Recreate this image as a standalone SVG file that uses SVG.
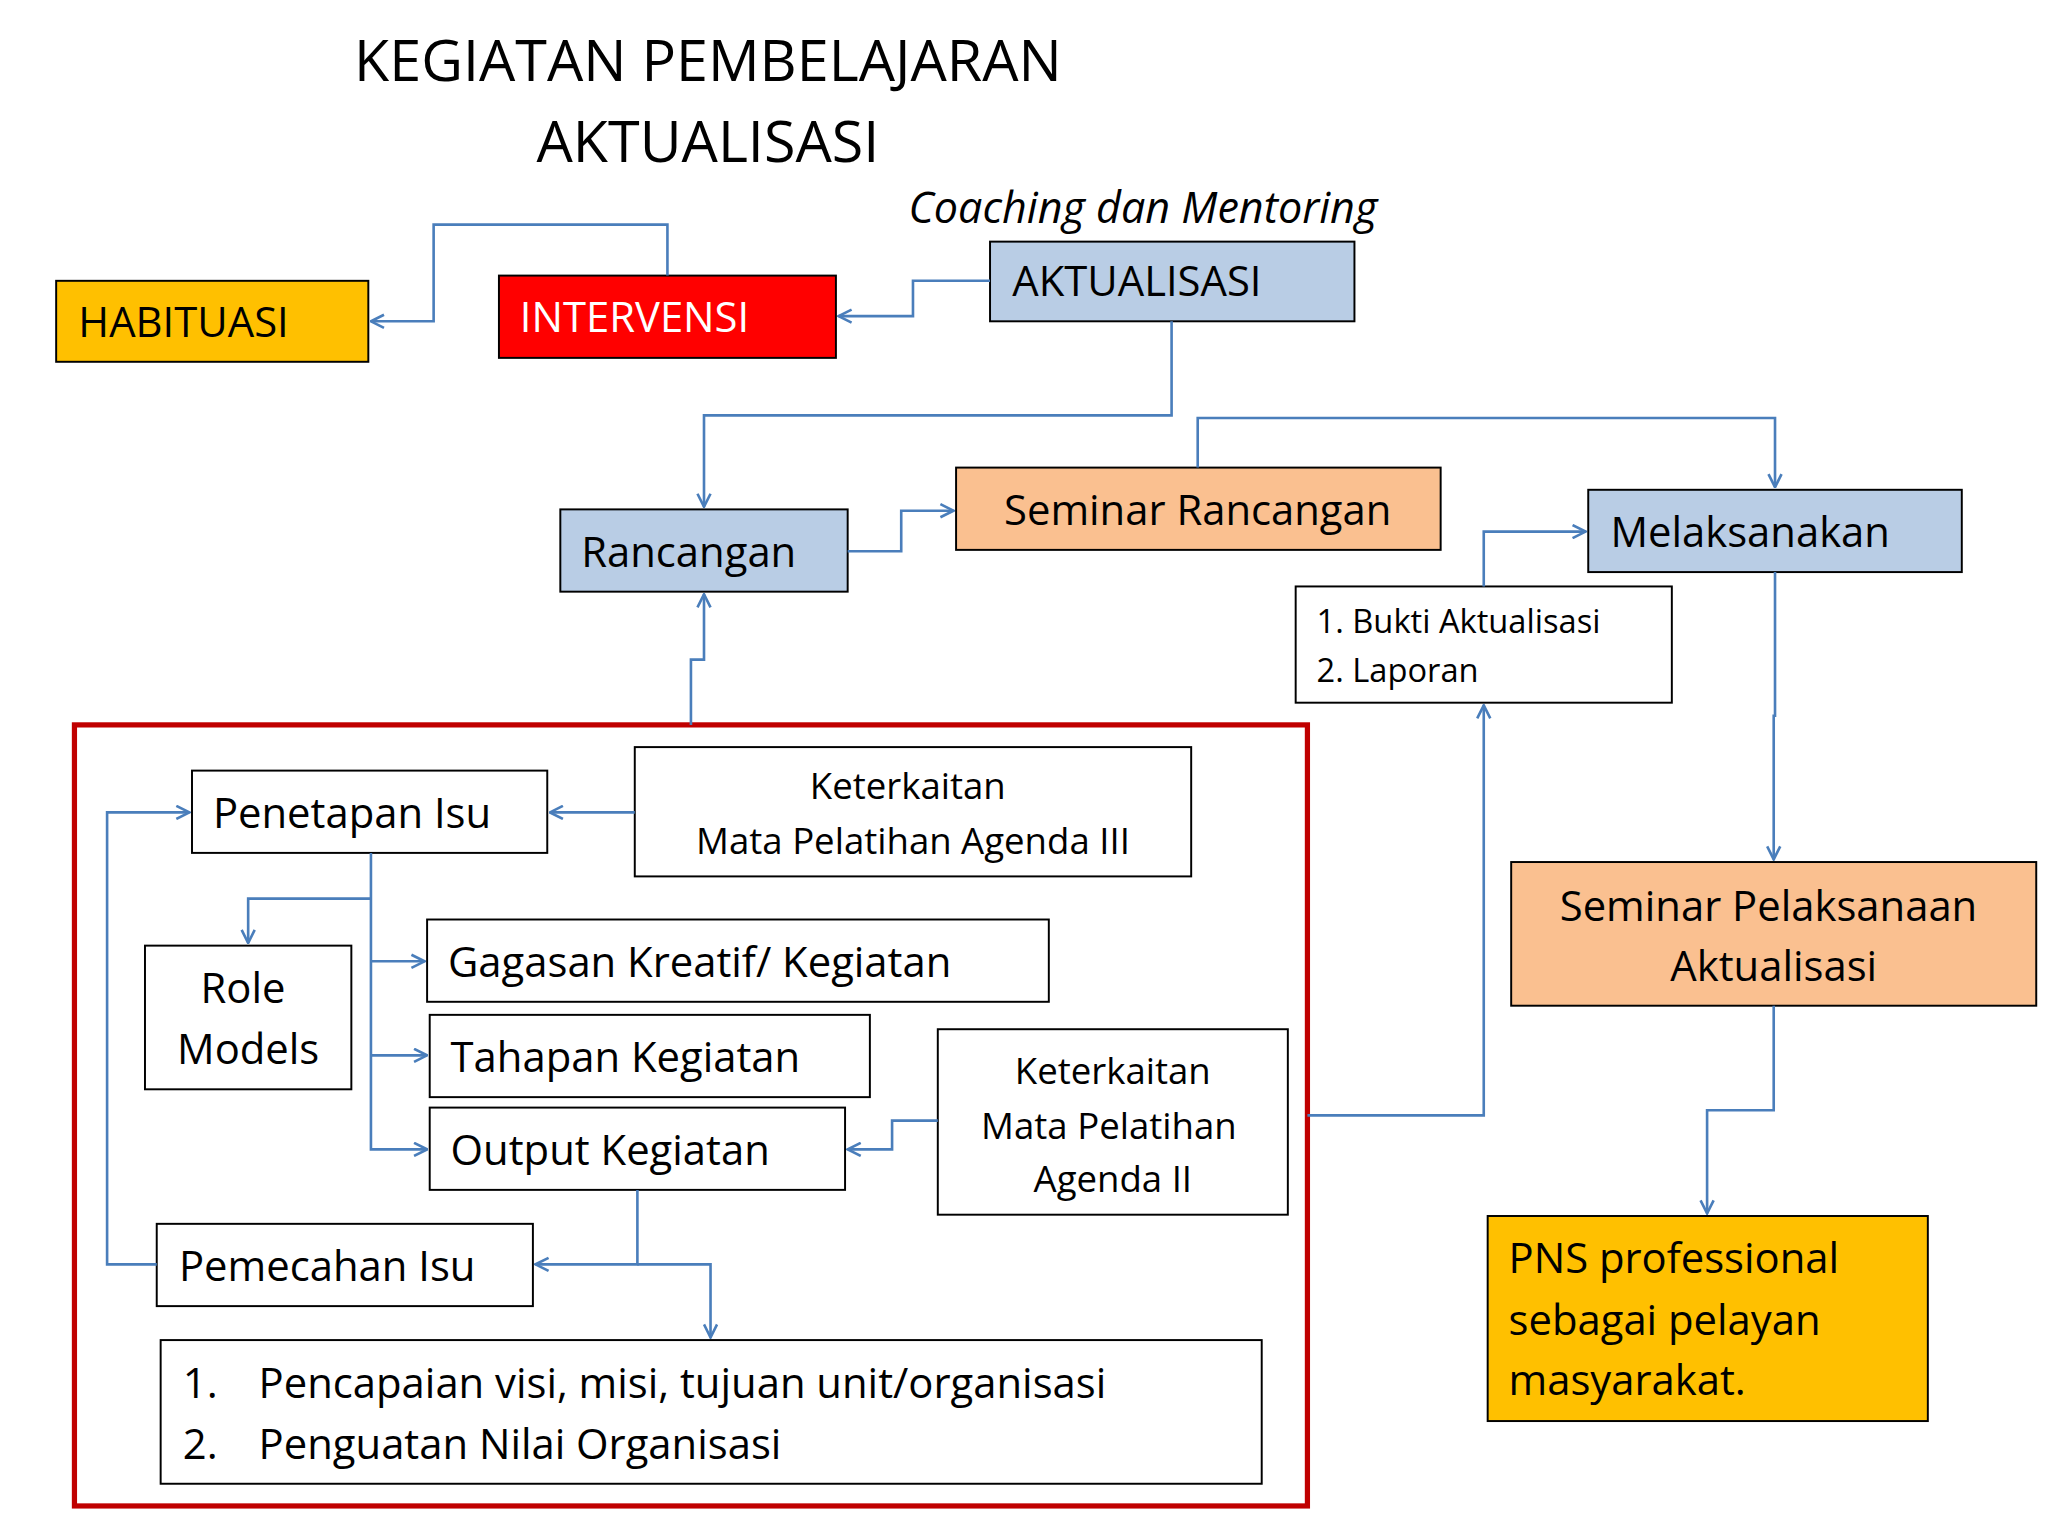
<svg xmlns="http://www.w3.org/2000/svg" width="2048" height="1536" viewBox="0 0 2048 1536">
<style>
text{font-family:"Open Sans","Liberation Sans",sans-serif;fill:#000}
.b{stroke:#000;stroke-width:1.5}
.c path{fill:none;stroke:#4A7EBB;stroke-width:2;marker-end:url(#a)}
.t32{font-size:32px}.t28{font-size:28px}
</style>
<defs><marker id="a" viewBox="0 0 12 12" refX="11" refY="6" markerWidth="12" markerHeight="12" markerUnits="userSpaceOnUse" orient="auto"><path d="M1,1 L11,6 L1,11" fill="none" stroke="#4A7EBB" stroke-width="2"/></marker></defs>
<rect width="2048" height="1536" fill="#fff"/>
<g transform="scale(1.30612)">
<g id="title"><text x="542" y="62" font-size="44" text-anchor="middle">KEGIATAN PEMBELAJARAN</text><text x="542" y="124" font-size="44" text-anchor="middle">AKTUALISASI</text>
<text x="875" y="171" font-size="33" font-style="italic" text-anchor="middle">Coaching dan Mentoring</text></g>
<g id="habituasi"><rect class="b" x="43" y="215" width="239" height="62" fill="#FFC000"/><text class="t32" x="60" y="258">HABITUASI</text></g>
<g id="intervensi"><rect class="b" x="382" y="211" width="258" height="63" fill="#FF0000"/><text class="t32" x="398" y="254" style="fill:#fff">INTERVENSI</text></g>
<g id="aktualisasi"><rect class="b" x="758" y="185" width="279" height="61" fill="#B9CDE5"/><text class="t32" x="775" y="227">AKTUALISASI</text></g>
<g id="rancangan"><rect class="b" x="429" y="390" width="220" height="63" fill="#B9CDE5"/><text class="t32" x="445" y="434">Rancangan</text></g>
<g id="seminar-rancangan"><rect class="b" x="732" y="358" width="371" height="63" fill="#FAC090"/><text class="t32" x="917" y="402" text-anchor="middle">Seminar Rancangan</text></g>
<g id="melaksanakan"><rect class="b" x="1216" y="375" width="286" height="63" fill="#B9CDE5"/><text class="t32" x="1233" y="419">Melaksanakan</text></g>
<g id="bukti"><rect class="b" x="992" y="449" width="288" height="89" fill="#fff"/><text font-size="25" x="1008" y="485">1. Bukti Aktualisasi</text><text font-size="25" x="1008" y="522">2. Laporan</text></g>
<g id="seminar-pelaksanaan"><rect class="b" x="1157" y="660" width="402" height="110" fill="#FAC090"/><text class="t32" x="1354" y="705" text-anchor="middle">Seminar Pelaksanaan</text><text class="t32" x="1358" y="751" text-anchor="middle">Aktualisasi</text></g>
<g id="pns"><rect class="b" x="1139" y="931" width="337" height="157" fill="#FFC000"/><text class="t32" x="1155" y="975">PNS professional</text><text class="t32" x="1155" y="1022">sebagai pelayan</text><text class="t32" x="1155" y="1068">masyarakat.</text></g>
<g id="frame"><rect x="57" y="555" width="944" height="598" fill="none" stroke="#C00000" stroke-width="4"/></g>
<g id="penetapan"><rect class="b" x="147" y="590" width="272" height="63" fill="#fff"/><text class="t32" x="163" y="634">Penetapan Isu</text></g>
<g id="ket3"><rect class="b" x="486" y="572" width="426" height="99" fill="#fff"/><text class="t28" x="695" y="612" text-anchor="middle">Keterkaitan</text><text class="t28" x="699" y="654" text-anchor="middle">Mata Pelatihan Agenda III</text></g>
<g id="role"><rect class="b" x="111" y="724" width="158" height="110" fill="#fff"/><text class="t32" x="186" y="768" text-anchor="middle">Role</text><text class="t32" x="190" y="815" text-anchor="middle">Models</text></g>
<g id="gagasan"><rect class="b" x="327" y="704" width="476" height="63" fill="#fff"/><text class="t32" x="343" y="748">Gagasan Kreatif/ Kegiatan</text></g>
<g id="tahapan"><rect class="b" x="329" y="777" width="337" height="63" fill="#fff"/><text class="t32" x="345" y="821">Tahapan Kegiatan</text></g>
<g id="output"><rect class="b" x="329" y="848" width="318" height="63" fill="#fff"/><text class="t32" x="345" y="892">Output Kegiatan</text></g>
<g id="ket2"><rect class="b" x="718" y="788" width="268" height="142" fill="#fff"/><text class="t28" x="852" y="830" text-anchor="middle">Keterkaitan</text><text class="t28" x="849" y="872" text-anchor="middle">Mata Pelatihan</text><text class="t28" x="852" y="913" text-anchor="middle">Agenda II</text></g>
<g id="pemecahan"><rect class="b" x="120" y="937" width="288" height="63" fill="#fff"/><text class="t32" x="137" y="981">Pemecahan Isu</text></g>
<g id="list"><rect class="b" x="123" y="1026" width="843" height="110" fill="#fff"/><text class="t32" x="140" y="1070">1.</text><text class="t32" x="198" y="1070">Pencapaian visi, misi, tujuan unit/organisasi</text><text class="t32" x="140" y="1117">2.</text><text class="t32" x="198" y="1117">Penguatan Nilai Organisasi</text></g>
<g id="connectors" class="c">
<path d="M758,215 H699 V242 H642"/>
<path d="M511,211 V172 H332 V246 H284"/>
<path d="M897,246 V318 H539 V388"/>
<path d="M917,358 V320 H1359 V373"/>
<path d="M649,422 H690 V391 H730"/>
<path d="M529,555 V505 H539 V455"/>
<path d="M1136,449 V407 H1214"/>
<path d="M1359,438 V548 H1358 V658"/>
<path d="M1001,854 H1136 V540"/>
<path d="M1358,770 V850 H1307 V929"/>
<path d="M486,622 H421"/>
<path d="M284,653 V880 H327"/>
<path d="M284,736 H325"/>
<path d="M284,808 H327"/>
<path d="M284,688 H190 V722"/>
<path d="M718,858 H683 V880 H649"/>
<path d="M488,911 V968 H410"/>
<path d="M488,968 H544 V1024"/>
<path d="M120,968 H82 V622 H145"/>
</g>
</g>
</svg>
